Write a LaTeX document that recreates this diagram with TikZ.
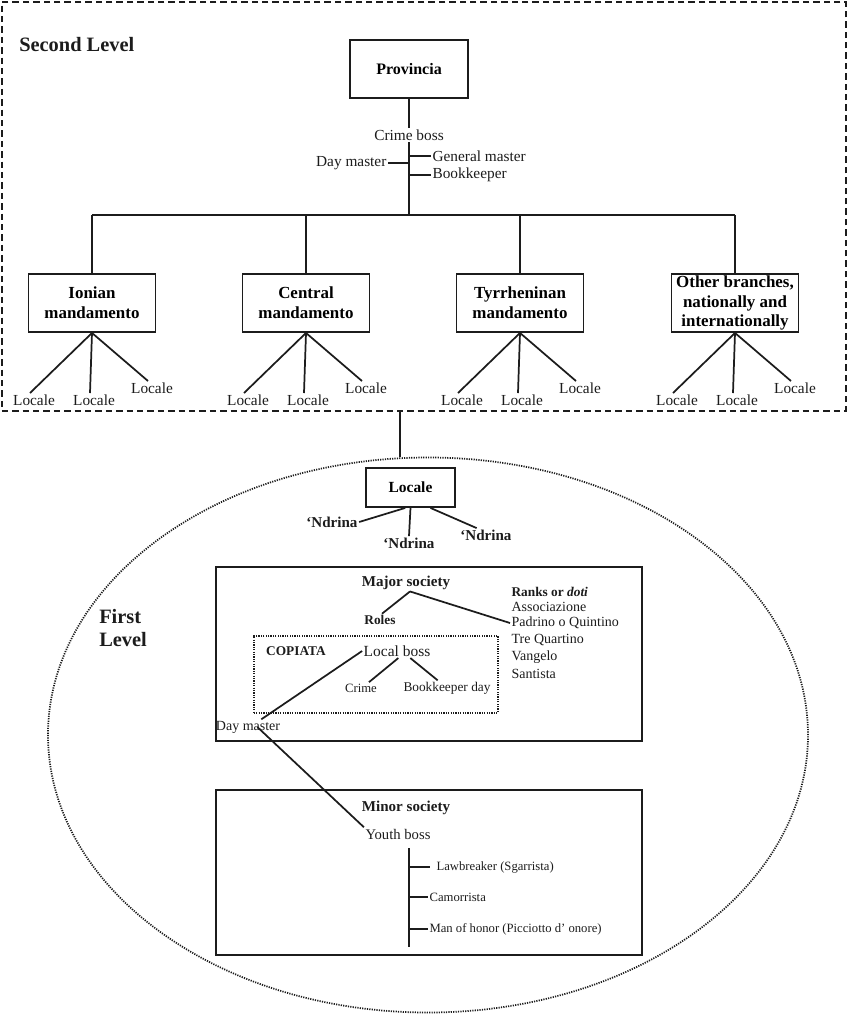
\documentclass[tikz,border=0pt]{standalone}
\usepackage{fontspec}
\setmainfont{Liberation Serif}
\usepackage{tikz}
\usetikzlibrary{shapes.geometric}
\definecolor{ink}{HTML}{1C1C1C}
\tikzset{
  link/.style={line width=1.3pt,draw=ink},
  framebox/.style={draw=ink,line width=1.4pt,inner sep=0pt},
  unitbox/.style={framebox,font=\bfseries\fontsize{12.7}{14.7}\selectfont,align=center,
    minimum width=95.25pt,minimum height=43.5pt},
  dotline/.style={draw=ink,line width=1.3pt,dash pattern=on 0.9pt off 0.9pt},
  txt/.style={inner sep=1pt,text=ink,font=\fontsize{11.5}{13}\selectfont},
  note/.style={txt,font=\fontsize{10.5}{12}\selectfont},
  small/.style={txt,font=\fontsize{9.5}{11}\selectfont},
  head/.style={txt,font=\bfseries\fontsize{11.3}{13}\selectfont},
  subhead/.style={txt,font=\bfseries\fontsize{10}{12}\selectfont},
  levelname/.style={inner sep=0pt,text=ink,font=\bfseries\fontsize{15.3}{17.3}\selectfont,align=left},
}

\begin{document}
\begin{tikzpicture}[x=0.75pt,y=-0.75pt]
  \useasboundingbox (0,0) rectangle (847,1015);

  \node[draw=ink,line width=1.3pt,dash pattern=on 4.8pt off 3pt,minimum width=633pt,minimum height=306.75pt,
    inner sep=0pt,anchor=north west] (second) at (1,1) {};
  \node[levelname,anchor=west] (second-title) at (19,45) {Second Level};

  \node[framebox,font=\bfseries\fontsize{12}{14}\selectfont,minimum width=88.5pt,minimum height=43.5pt]
    (prov) at (409,69) {Provincia};
  \node[txt] (cboss) at (409,135) {Crime boss};
  \coordinate (hub) at (409,215);
  \draw[link] (prov) -- (cboss);
  \draw[link] (cboss) -- (hub);
  \node[txt,anchor=west] (gmaster) at (431,156) {General master};
  \node[txt,anchor=west] (bkeeper) at (431,175) {Bookkeeper};
  \node[txt,anchor=east] (dmaster) at (388,163) {Day master};
  \draw[link] (gmaster.west -| hub) -- (gmaster.west);
  \draw[link] (bkeeper.west -| hub) -- (bkeeper.west);
  \draw[link] (dmaster.east) -- (dmaster.east -| hub);

  \node[unitbox] (ionian) at (92,303) {Ionian\\mandamento};
  \node[unitbox] (central) at (306,303) {Central\\mandamento};
  \node[unitbox] (tyrr) at (520,303) {Tyrrheninan\\mandamento};
  \node[unitbox] (other) at (735,303) {Other branches,\\nationally and\\internationally};
  \draw[link] (ionian.north |- hub) -- (other.north |- hub);
  \foreach \m/\x in {ionian/92,central/306,tyrr/520,other/735}{
    \draw[link] (\m.north |- hub) -- (\m.north);
    \node[txt] (\m-l) at (\x-58,400) {Locale};
    \node[txt] (\m-c) at (\x+2,400) {Locale};
    \node[txt] (\m-r) at (\x+60,388) {Locale};
    \draw[link] (\m.south) -- ([xshift=-3pt]\m-l.north);
    \draw[link] (\m.south) -- ([xshift=-3pt]\m-c.north);
    \draw[link] (\m.south) -- ([xshift=-3pt]\m-r.north);
  }

  \node[ellipse,dotline,minimum width=570pt,minimum height=416.25pt,inner sep=0pt] (first) at (428,735) {};
  \coordinate (drop) at (400,0);
  \draw[link] (second.south -| drop) -- (first.north -| drop);
  \node[levelname,anchor=north west] (first-title) at (99,609) {First\\Level};

  \node[framebox,font=\bfseries\fontsize{11.6}{13}\selectfont,minimum width=66.75pt,minimum height=29.25pt]
    (locale) at (410.5,487.5) {Locale};
  \node[head] (ndr-l) at (332,522) {‘Ndrina};
  \node[head] (ndr-c) at (409,543) {‘Ndrina};
  \node[head] (ndr-r) at (486,535) {‘Ndrina};
  \draw[link] ([xshift=-4pt]locale.south) -- (ndr-l.east);
  \draw[link] (locale.south) -- (ndr-c.north);
  \draw[link] ([xshift=15pt]locale.south) -- ([xshift=-7pt]ndr-r.north);

  \node[framebox,minimum width=319.5pt,minimum height=130.5pt,anchor=north west] (major) at (215,566) {};
  \node[head] (majsoc) at (406,583) {Major society};
  \node[subhead] (roles) at (380,620) {Roles};
  \node[subhead,anchor=west] (ranks) at (510,592) {Ranks or \textit{doti}};
  \foreach \n/\y/\t in {assoc/607/Associazione,padrino/623/Padrino o Quintino,tre/640/Tre Quartino,
    vangelo/657/Vangelo,santista/674/Santista}
    \node[note,anchor=west] (\n) at (510,\y) {\t};
  \draw[link] ([xshift=3pt]majsoc.south) -- ([xshift=1.5pt]roles.north);
  \draw[link] ([xshift=3pt]majsoc.south) -- (padrino.west);

  \node[dotline,minimum width=183pt,minimum height=57.75pt,inner sep=0pt,anchor=north west]
    (copiata) at (253,635) {};
  \node[subhead] (copiata-title) at (296,651) {COPIATA};
  \node[txt,font=\fontsize{11.6}{13}\selectfont] (lboss) at (397,651) {Local boss};
  \node[small] (crime) at (361,688) {Crime};
  \node[note,font=\fontsize{10}{12}\selectfont] (bkday) at (447,688) {Bookkeeper day};
  \draw[link] ([xshift=1pt]lboss.south) -- ([xshift=6pt]crime.north);
  \draw[link] ([xshift=10pt]lboss.south) -- ([xshift=-7pt]bkday.north);
  \node[note] (dmaster2) at (248,727) {Day master};
  \draw[link] (lboss.west) -- ([xshift=10pt]dmaster2.north);

  \node[framebox,minimum width=319.5pt,minimum height=123.75pt,anchor=north west] (minor) at (215,789) {};
  \node[head] (minsoc) at (406,808) {Minor society};
  \node[txt,font=\fontsize{11}{13}\selectfont] (youth) at (398,834) {Youth boss};
  \draw[link] ([xshift=7pt]dmaster2.center) -- (youth.north west);
  \coordinate (ladder) at (409,848);
  \coordinate (ladderend) at (409,947);
  \draw[link] (ladder) -- (ladderend);
  \node[small,anchor=west] (sgarrista) at (435,867) {Lawbreaker (Sgarrista)};
  \node[small,anchor=west] (camorrista) at (428,897) {Camorrista};
  \node[small,anchor=west] (picciotto) at (428,929) {Man of honor (Picciotto d’ onore)};
  \draw[link,shorten >=4pt] (sgarrista.west -| ladder) -- (sgarrista.west);
  \draw[link] (camorrista.west -| ladder) -- (camorrista.west);
  \draw[link] (picciotto.west -| ladder) -- (picciotto.west);
\end{tikzpicture}
\end{document}
